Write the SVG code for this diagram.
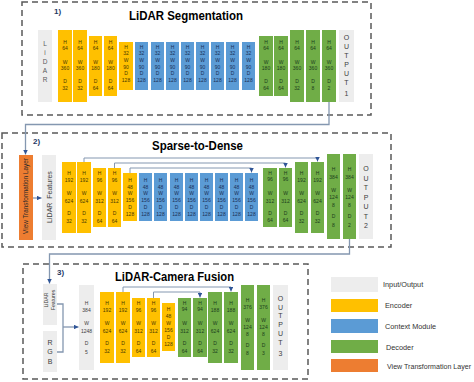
<svg xmlns="http://www.w3.org/2000/svg" width="474" height="382" viewBox="0 0 474 382">
<style>
.frame{fill:none;stroke:#595959;stroke-width:1.5;stroke-dasharray:6 4}
.io{fill:#ededed}
.enc{fill:#ffc000}
.ctx{fill:#5b9bd5}
.dec{fill:#70ad47}
.vtl{fill:#ed7d31}
text{font-family:"Liberation Sans",Arial,sans-serif}
.bt{font-size:5px;text-anchor:middle}
.te{fill:#4a3800}
.tc{fill:#1a2f55}
.td{fill:#1b3d1c}
.lt{font-size:7px;text-anchor:middle;fill:#404040}
.title{font-size:12px;font-weight:bold;fill:#000}
.num{font-size:8px;font-weight:bold;fill:#1f3864}
.leg{font-size:7.3px;fill:#333}
.con{fill:none;stroke:#8497b0;stroke-width:1.3}
.skip{fill:none;stroke:#8497b0;stroke-width:1}
</style>
<defs>
<marker id="arr" viewBox="0 0 6 6" refX="6" refY="3" markerWidth="4.5" markerHeight="4.5" markerUnits="userSpaceOnUse" orient="auto">
<path d="M0,0 L6,3 L0,6 Z" fill="#2f5597"/>
</marker>
</defs>
<rect width="474" height="382" fill="#fff"/>

<g id="frames">
<rect class="frame" x="22" y="2" width="349" height="113"/>
<rect class="frame" x="2" y="133" width="389" height="114"/>
<rect class="frame" x="23" y="264" width="285" height="115"/>
</g>

<g id="labels">
<text class="num" x="54" y="14">1)</text>
<text class="title" x="129" y="20" textLength="114" lengthAdjust="spacingAndGlyphs">LiDAR Segmentation</text>
<text class="num" x="33" y="144">2)</text>
<text class="title" x="152" y="149.5" textLength="91" lengthAdjust="spacingAndGlyphs">Sparse-to-Dense</text>
<text class="num" x="57" y="275">3)</text>
<text class="title" x="115" y="281" textLength="119" lengthAdjust="spacingAndGlyphs">LiDAR-Camera Fusion</text>
</g>

<g id="connectors">
<path class="con" d="M329,102 V124.5 H25.5 V154.5" marker-end="url(#arr)"/>
<path class="con" d="M33,198 H41.5" marker-end="url(#arr)"/>
<path class="skip" d="M84,162 V158 H317.5 V161.5" marker-end="url(#arr)"/>
<path class="skip" d="M114.5,168 V163 H285.5 V167.5" marker-end="url(#arr)"/>
<path class="skip" d="M130,173 V168 H251.5 V172.5" marker-end="url(#arr)"/>
<path class="con" d="M349.5,239 V254 H49.5 V283.5" marker-end="url(#arr)"/>
<path class="con" d="M57,304 H63 V352 H57"/>
<path class="con" d="M63,327 H78.5" marker-end="url(#arr)"/>
<path class="skip" d="M123,292 V287 H231 V291.5" marker-end="url(#arr)"/>
<path class="skip" d="M153.5,298 V292 H200 V297.5" marker-end="url(#arr)"/>
</g>

<!-- Section 1 -->
<g id="s1-input"><rect class="io" x="38" y="30" width="14" height="72"/>
<g class="lt" style="font-size:6.5px;fill:#595959"><text x="45" y="45.5">L</text><text x="45" y="54.5">i</text><text x="45" y="63.5">D</text><text x="45" y="72.5">A</text><text x="45" y="81.5">R</text></g></g>
<g id="s1-e1"><rect class="enc" x="58" y="30" width="14" height="72"/><g class="bt te"><text x="65" y="44">H</text><text x="65" y="50">64</text><text x="65" y="64">W</text><text x="65" y="70">360</text><text x="65" y="83">D</text><text x="65" y="90">32</text></g></g>
<g id="s1-e2"><rect class="enc" x="73" y="30" width="14" height="72"/><g class="bt te"><text x="80" y="44">H</text><text x="80" y="50">64</text><text x="80" y="64">W</text><text x="80" y="70">360</text><text x="80" y="83">D</text><text x="80" y="90">32</text></g></g>
<g id="s1-e3"><rect class="enc" x="89" y="36" width="13" height="60"/><g class="bt te"><text x="95.5" y="44">H</text><text x="95.5" y="50">64</text><text x="95.5" y="64">W</text><text x="95.5" y="70">180</text><text x="95.5" y="83">D</text><text x="95.5" y="90">64</text></g></g>
<g id="s1-e4"><rect class="enc" x="104" y="36" width="13" height="60"/><g class="bt te"><text x="110.5" y="44">H</text><text x="110.5" y="50">64</text><text x="110.5" y="64">W</text><text x="110.5" y="70">180</text><text x="110.5" y="83">D</text><text x="110.5" y="90">64</text></g></g>
<g id="s1-e5"><rect class="enc" x="119" y="42" width="14" height="48"/><g class="bt te"><text x="126" y="49">H</text><text x="126" y="55">32</text><text x="126" y="62">W</text><text x="126" y="68.5">90</text><text x="126" y="75">D</text><text x="126" y="82">128</text></g></g>
<g id="s1-c1"><rect class="ctx" x="135" y="42" width="13" height="48"/><g class="bt tc"><text x="141.5" y="49">H</text><text x="141.5" y="55">32</text><text x="141.5" y="62">W</text><text x="141.5" y="68.5">90</text><text x="141.5" y="75">D</text><text x="141.5" y="82">128</text></g></g>
<g id="s1-c2"><rect class="ctx" x="151" y="42" width="13" height="48"/><g class="bt tc"><text x="157.5" y="49">H</text><text x="157.5" y="55">32</text><text x="157.5" y="62">W</text><text x="157.5" y="68.5">90</text><text x="157.5" y="75">D</text><text x="157.5" y="82">128</text></g></g>
<g id="s1-c3"><rect class="ctx" x="166" y="42" width="13" height="48"/><g class="bt tc"><text x="172.5" y="49">H</text><text x="172.5" y="55">32</text><text x="172.5" y="62">W</text><text x="172.5" y="68.5">90</text><text x="172.5" y="75">D</text><text x="172.5" y="82">128</text></g></g>
<g id="s1-c4"><rect class="ctx" x="181" y="42" width="13" height="48"/><g class="bt tc"><text x="187.5" y="49">H</text><text x="187.5" y="55">32</text><text x="187.5" y="62">W</text><text x="187.5" y="68.5">90</text><text x="187.5" y="75">D</text><text x="187.5" y="82">128</text></g></g>
<g id="s1-c5"><rect class="ctx" x="196" y="42" width="13" height="48"/><g class="bt tc"><text x="202.5" y="49">H</text><text x="202.5" y="55">32</text><text x="202.5" y="62">W</text><text x="202.5" y="68.5">90</text><text x="202.5" y="75">D</text><text x="202.5" y="82">128</text></g></g>
<g id="s1-c6"><rect class="ctx" x="211" y="42" width="13" height="48"/><g class="bt tc"><text x="217.5" y="49">H</text><text x="217.5" y="55">32</text><text x="217.5" y="62">W</text><text x="217.5" y="68.5">90</text><text x="217.5" y="75">D</text><text x="217.5" y="82">128</text></g></g>
<g id="s1-c7"><rect class="ctx" x="226" y="42" width="13" height="48"/><g class="bt tc"><text x="232.5" y="49">H</text><text x="232.5" y="55">32</text><text x="232.5" y="62">W</text><text x="232.5" y="68.5">90</text><text x="232.5" y="75">D</text><text x="232.5" y="82">128</text></g></g>
<g id="s1-c8"><rect class="ctx" x="242" y="42" width="13" height="48"/><g class="bt tc"><text x="248.5" y="49">H</text><text x="248.5" y="55">32</text><text x="248.5" y="62">W</text><text x="248.5" y="68.5">90</text><text x="248.5" y="75">D</text><text x="248.5" y="82">128</text></g></g>
<g id="s1-d1"><rect class="dec" x="259" y="36" width="14" height="60"/><g class="bt td"><text x="266" y="44">H</text><text x="266" y="50">64</text><text x="266" y="64">W</text><text x="266" y="70">180</text><text x="266" y="83">D</text><text x="266" y="90">64</text></g></g>
<g id="s1-d2"><rect class="dec" x="274" y="36" width="14" height="60"/><g class="bt td"><text x="281" y="44">H</text><text x="281" y="50">64</text><text x="281" y="64">W</text><text x="281" y="70">180</text><text x="281" y="83">D</text><text x="281" y="90">64</text></g></g>
<g id="s1-d3"><rect class="dec" x="290" y="30" width="14" height="72"/><g class="bt td"><text x="297" y="44">H</text><text x="297" y="50">64</text><text x="297" y="64">W</text><text x="297" y="70">360</text><text x="297" y="83">D</text><text x="297" y="90">32</text></g></g>
<g id="s1-d4"><rect class="dec" x="306" y="30" width="14" height="72"/><g class="bt td"><text x="313" y="44">H</text><text x="313" y="50">64</text><text x="313" y="64">W</text><text x="313" y="70">360</text><text x="313" y="83">D</text><text x="313" y="90">8</text></g></g>
<g id="s1-d5"><rect class="dec" x="322" y="30" width="14" height="72"/><g class="bt td"><text x="329" y="44">H</text><text x="329" y="50">64</text><text x="329" y="64">W</text><text x="329" y="70">360</text><text x="329" y="83">D</text><text x="329" y="90">2</text></g></g>
<g id="s1-output"><rect class="io" x="339" y="30" width="15" height="72"/><g class="lt"><text x="346.5" y="39.5">O</text><text x="346.5" y="48.5">U</text><text x="346.5" y="57.5">T</text><text x="346.5" y="66.5">P</text><text x="346.5" y="75.5">U</text><text x="346.5" y="84.5">T</text><text x="346.5" y="96">1</text></g></g>

<!-- Section 2 -->
<g id="s2-vtl"><rect class="vtl" x="19" y="155" width="14" height="85"/><text transform="rotate(-90 28.3 196)" x="28.3" y="196" style="font-size:6.4px;text-anchor:middle;fill:#2a2a2a">View Transformation Layer</text></g>
<g id="s2-features"><rect class="io" x="42" y="155" width="14" height="85"/><text transform="rotate(-90 51.5 197)" x="51.5" y="197" style="font-size:7px;text-anchor:middle;fill:#404040" xml:space="preserve">LiDAR  Features</text></g>
<g id="s2-e1"><rect class="enc" x="62" y="162" width="14" height="71"/><g class="bt te"><text x="69" y="175">H</text><text x="69" y="182">192</text><text x="69" y="195">W</text><text x="69" y="203">624</text><text x="69" y="215">D</text><text x="69" y="223">32</text></g></g>
<g id="s2-e2"><rect class="enc" x="77" y="162" width="14" height="71"/><g class="bt te"><text x="84" y="175">H</text><text x="84" y="182">192</text><text x="84" y="195">W</text><text x="84" y="203">624</text><text x="84" y="215">D</text><text x="84" y="223">32</text></g></g>
<g id="s2-e3"><rect class="enc" x="93" y="168" width="13" height="59"/><g class="bt te"><text x="99.5" y="175">H</text><text x="99.5" y="182">96</text><text x="99.5" y="195">W</text><text x="99.5" y="203">312</text><text x="99.5" y="215">D</text><text x="99.5" y="223">64</text></g></g>
<g id="s2-e4"><rect class="enc" x="108" y="168" width="13" height="59"/><g class="bt te"><text x="114.5" y="175">H</text><text x="114.5" y="182">96</text><text x="114.5" y="195">W</text><text x="114.5" y="203">312</text><text x="114.5" y="215">D</text><text x="114.5" y="223">64</text></g></g>
<g id="s2-e5"><rect class="enc" x="123" y="173" width="14" height="48"/><g class="bt te"><text x="130" y="182">H</text><text x="130" y="189">48</text><text x="130" y="195">W</text><text x="130" y="202">156</text><text x="130" y="209">D</text><text x="130" y="216">128</text></g></g>
<g id="s2-c1"><rect class="ctx" x="139" y="173" width="13" height="48"/><g class="bt tc"><text x="145.5" y="182">H</text><text x="145.5" y="189">48</text><text x="145.5" y="195">W</text><text x="145.5" y="202">156</text><text x="145.5" y="209">D</text><text x="145.5" y="216">128</text></g></g>
<g id="s2-c2"><rect class="ctx" x="154" y="173" width="13" height="48"/><g class="bt tc"><text x="160.5" y="182">H</text><text x="160.5" y="189">48</text><text x="160.5" y="195">W</text><text x="160.5" y="202">156</text><text x="160.5" y="209">D</text><text x="160.5" y="216">128</text></g></g>
<g id="s2-c3"><rect class="ctx" x="170" y="173" width="13" height="48"/><g class="bt tc"><text x="176.5" y="182">H</text><text x="176.5" y="189">48</text><text x="176.5" y="195">W</text><text x="176.5" y="202">156</text><text x="176.5" y="209">D</text><text x="176.5" y="216">128</text></g></g>
<g id="s2-c4"><rect class="ctx" x="185" y="173" width="13" height="48"/><g class="bt tc"><text x="191.5" y="182">H</text><text x="191.5" y="189">48</text><text x="191.5" y="195">W</text><text x="191.5" y="202">156</text><text x="191.5" y="209">D</text><text x="191.5" y="216">128</text></g></g>
<g id="s2-c5"><rect class="ctx" x="200" y="173" width="13" height="48"/><g class="bt tc"><text x="206.5" y="182">H</text><text x="206.5" y="189">48</text><text x="206.5" y="195">W</text><text x="206.5" y="202">156</text><text x="206.5" y="209">D</text><text x="206.5" y="216">128</text></g></g>
<g id="s2-c6"><rect class="ctx" x="215" y="173" width="13" height="48"/><g class="bt tc"><text x="221.5" y="182">H</text><text x="221.5" y="189">48</text><text x="221.5" y="195">W</text><text x="221.5" y="202">156</text><text x="221.5" y="209">D</text><text x="221.5" y="216">128</text></g></g>
<g id="s2-c7"><rect class="ctx" x="230" y="173" width="13" height="48"/><g class="bt tc"><text x="236.5" y="182">H</text><text x="236.5" y="189">48</text><text x="236.5" y="195">W</text><text x="236.5" y="202">156</text><text x="236.5" y="209">D</text><text x="236.5" y="216">128</text></g></g>
<g id="s2-c8"><rect class="ctx" x="245" y="173" width="13" height="48"/><g class="bt tc"><text x="251.5" y="182">H</text><text x="251.5" y="189">48</text><text x="251.5" y="195">W</text><text x="251.5" y="202">156</text><text x="251.5" y="209">D</text><text x="251.5" y="216">128</text></g></g>
<g id="s2-d1"><rect class="dec" x="263" y="168" width="14" height="59"/><g class="bt td"><text x="270" y="175">H</text><text x="270" y="181">96</text><text x="270" y="195">W</text><text x="270" y="203">312</text><text x="270" y="215">D</text><text x="270" y="222">64</text></g></g>
<g id="s2-d2"><rect class="dec" x="279" y="168" width="13" height="59"/><g class="bt td"><text x="285.5" y="175">H</text><text x="285.5" y="181">96</text><text x="285.5" y="195">W</text><text x="285.5" y="203">312</text><text x="285.5" y="215">D</text><text x="285.5" y="222">64</text></g></g>
<g id="s2-d3"><rect class="dec" x="295" y="162" width="13" height="71"/><g class="bt td"><text x="301.5" y="175">H</text><text x="301.5" y="182">192</text><text x="301.5" y="195">W</text><text x="301.5" y="203">624</text><text x="301.5" y="215">D</text><text x="301.5" y="223">32</text></g></g>
<g id="s2-d4"><rect class="dec" x="311" y="162" width="13" height="71"/><g class="bt td"><text x="317.5" y="175">H</text><text x="317.5" y="182">192</text><text x="317.5" y="195">W</text><text x="317.5" y="203">624</text><text x="317.5" y="215">D</text><text x="317.5" y="223">32</text></g></g>
<g id="s2-d5"><rect class="dec" x="327" y="154" width="13" height="85"/><g class="bt td"><text x="333.5" y="171">H</text><text x="333.5" y="179">384</text><text x="333.5" y="192">W</text><text x="333.5" y="199">124</text><text x="333.5" y="207">8</text><text x="333.5" y="218">D</text><text x="333.5" y="227">8</text></g></g>
<g id="s2-d6"><rect class="dec" x="343" y="154" width="13" height="85"/><g class="bt td"><text x="349.5" y="171">H</text><text x="349.5" y="179">384</text><text x="349.5" y="192">W</text><text x="349.5" y="199">124</text><text x="349.5" y="207">8</text><text x="349.5" y="218">D</text><text x="349.5" y="227">2</text></g></g>
<g id="s2-output"><rect class="io" x="359" y="154" width="14" height="85"/><g class="lt"><text x="366" y="170.5">O</text><text x="366" y="180.5">U</text><text x="366" y="189.5">T</text><text x="366" y="199.5">P</text><text x="366" y="208.5">U</text><text x="366" y="218.5">T</text><text x="366" y="227.5">2</text></g></g>

<!-- Section 3 -->
<g id="s3-features"><rect class="io" x="43" y="284" width="14" height="41"/><text transform="rotate(-90 48.2 300)" x="48.2" y="300" style="font-size:5.2px;text-anchor:middle;fill:#404040">LiDAR</text><text transform="rotate(-90 54.5 300)" x="54.5" y="300" style="font-size:5.2px;text-anchor:middle;fill:#404040">Features</text></g>
<g id="s3-rgb"><rect class="io" x="43" y="331" width="14" height="41"/><g class="lt"><text x="50" y="344.5">R</text><text x="50" y="354">G</text><text x="50" y="363.5">B</text></g></g>
<g id="s3-input"><rect class="io" x="79" y="285" width="15" height="85"/><g class="bt" style="fill:#404040"><text x="86.5" y="305">H</text><text x="86.5" y="312">384</text><text x="86.5" y="325">W</text><text x="86.5" y="333">1248</text><text x="86.5" y="345">D</text><text x="86.5" y="354">5</text></g></g>
<g id="s3-e1"><rect class="enc" x="100" y="292" width="14" height="71"/><g class="bt te"><text x="107" y="305">H</text><text x="107" y="312">192</text><text x="107" y="325">W</text><text x="107" y="333">624</text><text x="107" y="345">D</text><text x="107" y="353">32</text></g></g>
<g id="s3-e2"><rect class="enc" x="116" y="292" width="14" height="71"/><g class="bt te"><text x="123" y="305">H</text><text x="123" y="312">192</text><text x="123" y="325">W</text><text x="123" y="333">624</text><text x="123" y="345">D</text><text x="123" y="353">32</text></g></g>
<g id="s3-e3"><rect class="enc" x="132" y="298" width="13" height="59"/><g class="bt te"><text x="138.5" y="305">H</text><text x="138.5" y="312">96</text><text x="138.5" y="325">W</text><text x="138.5" y="333">312</text><text x="138.5" y="345">D</text><text x="138.5" y="353">64</text></g></g>
<g id="s3-e4"><rect class="enc" x="147" y="298" width="13" height="59"/><g class="bt te"><text x="153.5" y="305">H</text><text x="153.5" y="312">96</text><text x="153.5" y="325">W</text><text x="153.5" y="333">312</text><text x="153.5" y="345">D</text><text x="153.5" y="353">64</text></g></g>
<g id="s3-e5"><rect class="enc" x="162" y="303" width="13" height="48"/><g class="bt te"><text x="168.5" y="311">H</text><text x="168.5" y="318">48</text><text x="168.5" y="325">W</text><text x="168.5" y="332">156</text><text x="168.5" y="339">D</text><text x="168.5" y="346">128</text></g></g>
<g id="s3-d1"><rect class="dec" x="178" y="298" width="13" height="59"/><g class="bt td"><text x="184.5" y="305">H</text><text x="184.5" y="311">94</text><text x="184.5" y="325">W</text><text x="184.5" y="333">312</text><text x="184.5" y="345">D</text><text x="184.5" y="353">64</text></g></g>
<g id="s3-d2"><rect class="dec" x="193" y="298" width="14" height="59"/><g class="bt td"><text x="200" y="305">H</text><text x="200" y="311">94</text><text x="200" y="325">W</text><text x="200" y="333">312</text><text x="200" y="345">D</text><text x="200" y="353">64</text></g></g>
<g id="s3-d3"><rect class="dec" x="208" y="292" width="14" height="71"/><g class="bt td"><text x="215" y="305">H</text><text x="215" y="312">188</text><text x="215" y="325">W</text><text x="215" y="333">624</text><text x="215" y="345">D</text><text x="215" y="353">32</text></g></g>
<g id="s3-d4"><rect class="dec" x="224" y="292" width="14" height="71"/><g class="bt td"><text x="231" y="305">H</text><text x="231" y="312">188</text><text x="231" y="325">W</text><text x="231" y="333">624</text><text x="231" y="345">D</text><text x="231" y="353">32</text></g></g>
<g id="s3-d5"><rect class="dec" x="241" y="285" width="13" height="85"/><g class="bt td"><text x="247.5" y="302">H</text><text x="247.5" y="309">376</text><text x="247.5" y="322">W</text><text x="247.5" y="329">124</text><text x="247.5" y="336">8</text><text x="247.5" y="347">D</text><text x="247.5" y="355">8</text></g></g>
<g id="s3-d6"><rect class="dec" x="257" y="285" width="13" height="85"/><g class="bt td"><text x="263.5" y="302">H</text><text x="263.5" y="309">376</text><text x="263.5" y="322">W</text><text x="263.5" y="329">124</text><text x="263.5" y="336">8</text><text x="263.5" y="347">D</text><text x="263.5" y="355">3</text></g></g>
<g id="s3-output"><rect class="io" x="273" y="285" width="15" height="85"/><g class="lt"><text x="280.5" y="300.5">O</text><text x="280.5" y="309.5">U</text><text x="280.5" y="318">T</text><text x="280.5" y="326.5">P</text><text x="280.5" y="335.5">U</text><text x="280.5" y="344.5">T</text><text x="280.5" y="355.5">3</text></g></g>

<!-- Legend -->
<g id="legend">
<rect class="io" x="331" y="277" width="47" height="15"/><text class="leg" x="383" y="287">Input/Output</text>
<rect class="enc" x="331" y="299" width="47" height="13"/><text class="leg" x="385" y="308">Encoder</text>
<rect class="ctx" x="331" y="319" width="47" height="14"/><text class="leg" x="385" y="329">Context Module</text>
<rect class="dec" x="331" y="340" width="47" height="13"/><text class="leg" x="386" y="349.5">Decoder</text>
<rect class="vtl" x="331" y="359" width="47" height="13"/><text class="leg" x="387" y="368.5" textLength="84" lengthAdjust="spacingAndGlyphs">View Transformation Layer</text>
</g>
</svg>
